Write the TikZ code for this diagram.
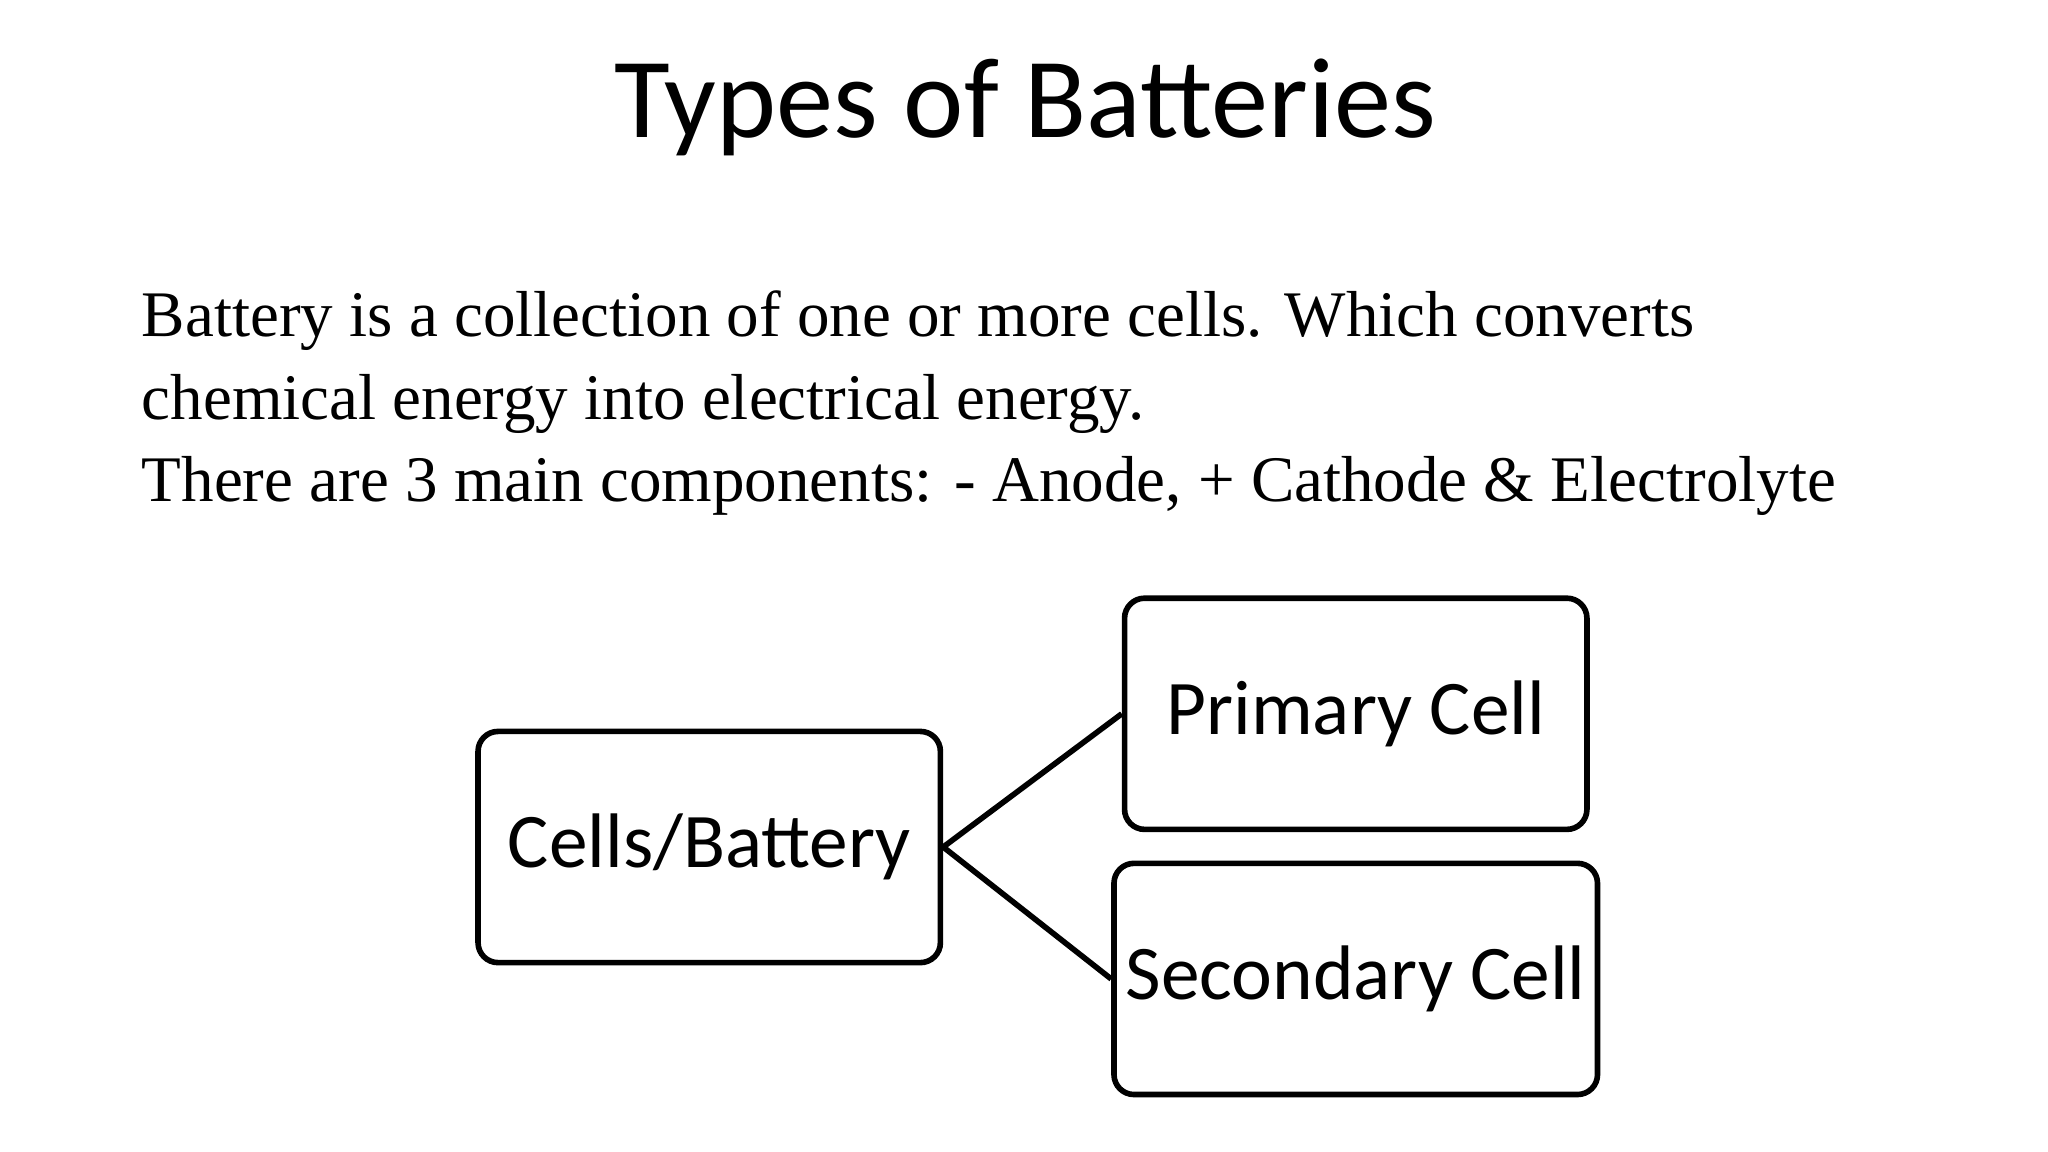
\documentclass[tikz,border=0pt]{standalone}
\usepackage{fontspec}
\setmainfont{Liberation Serif}
\newfontfamily\calfont{Carlito}
\begin{document}
\begin{tikzpicture}[x=0.01306cm,y=-0.01306cm,
  box/.style={draw,line width=1.6pt,rounded corners=0.2cm,minimum width=354*0.01306cm,minimum height=177*0.01306cm,font=\calfont\fontsize{22}{26}\selectfont},
  body/.style={anchor=base west,inner sep=0,font=\fontsize{18.5}{23}\selectfont},
  link/.style={line width=1.6pt}]
\useasboundingbox (0,0) rectangle (1568,882);
\node[anchor=base,inner sep=0,font=\calfont\fontsize{32.5}{38}\selectfont] (title) at (785,105) {Types of Batteries};
\node[body] (l1) at (108,258) {Battery is a collection of one or more cells. Which converts};
\node[body] (l2) at (108,321) {chemical energy into electrical energy.};
\node[body] (l3) at (108,384) {There are 3 main components: - Anode, + Cathode \& Electrolyte};
\node[box] (cb) at (543,648.5) {Cells/Battery};
\node[box] (pc) at (1038,546.5) {Primary Cell};
\node[box] (sc) at (1038,749.5) {Secondary Cell};
\draw[link] (cb.east) -- (pc.west);
\draw[link] (cb.east) -- (sc.west);
\end{tikzpicture}
\end{document}
